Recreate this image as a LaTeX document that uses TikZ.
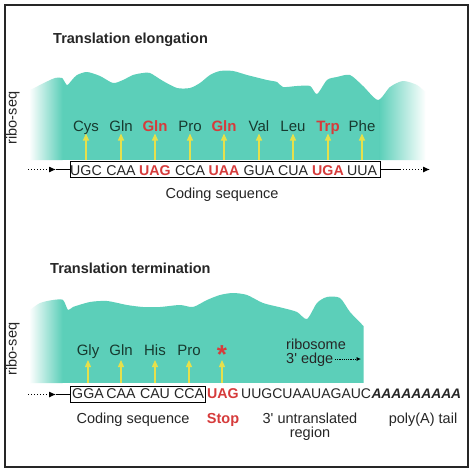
\documentclass[tikz,border=0pt]{standalone}
\usepackage{fontspec}
\setmainfont{Liberation Sans}
\usetikzlibrary{arrows.meta}
\definecolor{ribo}{HTML}{5CCFB9}
\definecolor{stopred}{HTML}{D63B3B}
\definecolor{arrowyel}{HTML}{E6E04A}
\definecolor{aadark}{HTML}{173A2F}
\definecolor{txt}{HTML}{262626}
\begin{document}
\begin{tikzpicture}[x=1pt,y=-1pt,
  title/.style={font=\fontsize{14.5}{16}\selectfont\bfseries, text=txt, anchor=base west, inner sep=0},
  aa/.style={font=\fontsize{15}{16}\selectfont, text=aadark, anchor=base, inner sep=0},
  aared/.style={font=\fontsize{15}{16}\selectfont\bfseries, text=stopred, anchor=base, inner sep=0},
  codon/.style={font=\fontsize{14.2}{16}\selectfont, text=txt, anchor=base, inner sep=0},
  codonred/.style={font=\fontsize{14.2}{16}\selectfont\bfseries, text=stopred, anchor=base, inner sep=0},
  lbl/.style={font=\fontsize{14.5}{16}\selectfont, text=txt, anchor=base, inner sep=0},
  ylabel/.style={font=\fontsize{14.5}{16}\selectfont, text=txt, rotate=90, inner sep=0},
  yarrow/.style={draw=arrowyel, line width=1.2pt, -{Triangle[width=6pt,length=7pt,fill=arrowyel]}},
  dotline/.style={line width=1pt, dash pattern=on 1pt off 2pt},
  tip/.style={-{Latex[length=7pt,width=6pt]}},
  seqbox/.style={draw, line width=1pt, inner sep=0},
]
\useasboundingbox (0,0) rectangle (474,471);
\fill[white] (0,0) rectangle (474,471);

% ---------- top panel ----------
\node[title] (t1) at (53,43.5) {Translation elongation};

\begin{scope}
\clip plot[smooth, tension=0.45] coordinates {(30,90) (38,86) (48,81) (55,78) (62,78) (67,85) (72,80) (77,75) (87,72) (100,76) (113,83) (123,80) (133,75) (143,73) (150,73) (163,81) (177,88) (190,88) (200,83) (210,75) (220,71) (233,71) (247,75) (267,80) (277,82) (283,87) (297,86) (310,86) (317,94) (327,80) (337,77) (350,75) (363,86) (378,100) (390,87) (403,81) (417,85) (425,92)} -- (425,160) -- (30,160) -- cycle;
\fill[ribo] (62,60) rectangle (380,160);
\shade[left color=white, right color=ribo] (29,60) rectangle (62.5,160);
\shade[left color=ribo, right color=white] (379.5,60) rectangle (426,160);
\end{scope}

\node[ylabel] (rs1) at (13,118) {ribo-seq};

\node[seqbox, minimum width=310pt, minimum height=16pt] (box1) at (225,169.5) {};

\foreach \x/\a/\as/\c/\cs [count=\i] in {86/Cys/aa/UGC/codon, 121/Gln/aa/CAA/codon, 155/Gln/aared/UAG/codonred, 190/Pro/aa/CCA/codon, 224/Gln/aared/UAA/codonred, 259/Val/aa/GUA/codon, 293/Leu/aa/CUA/codon, 328/Trp/aared/UGA/codonred, 362/Phe/aa/UUA/codon}{
  \node[\as] (aa\i) at (\x,131) {\a};
  \node[\cs] (cd\i) at (\x,175) {\c};
  \coordinate (ab\i) at (\x,160);
  \coordinate (at\i) at (\x,133.5);
  \draw[yarrow] (ab\i) -- (at\i);
}

\coordinate (l1s) at (28,169.5);
\coordinate (l1m) at (56,169.5);
\draw[dotline, tip] (l1s) -- (l1m);
\draw[line width=1pt] (l1m) -- (box1.west);
\coordinate (r1m) at (400,169.5);
\coordinate (r1e) at (430,169.5);
\draw[line width=1pt] (box1.east) -- (r1m);
\draw[dotline, tip] (r1m) -- (r1e);

\node[lbl] (cs1) at (222,198) {Coding sequence};

% ---------- bottom panel ----------
\node[title] (t2) at (50,273) {Translation termination};

\begin{scope}
\clip plot[smooth, tension=0.45] coordinates {(30,310) (40,303) (53,300) (63,300) (68,310) (73,307) (90,302) (107,301) (127,305) (143,307) (160,307) (180,305) (193,307) (207,300) (220,295) (233,293) (247,295) (263,303) (283,308) (297,312) (307,319) (317,303) (327,297) (340,298) (350,312) (363.5,326)} -- (363.5,383) -- (30,383) -- cycle;
\fill[ribo] (62,280) rectangle (364,383);
\shade[left color=white, right color=ribo] (29,280) rectangle (62.5,383);
\end{scope}

\node[ylabel] (rs2) at (13,349) {ribo-seq};

\node[seqbox, minimum width=135pt, minimum height=16pt] (box2) at (137.5,394.5) {};

\foreach \x/\a/\c [count=\i] in {88/Gly/GGA, 121/Gln/CAA, 155/His/CAU, 189/Pro/CCA}{
  \node[aa] (ba\i) at (\x,355) {\a};
  \node[codon] (bc\i) at (\x,398) {\c};
  \coordinate (bb\i) at (\x,383);
  \coordinate (bt\i) at (\x,360);
  \draw[yarrow] (bb\i) -- (bt\i);
}
\node[font=\fontsize{26}{26}\selectfont\bfseries, text=stopred, inner sep=0, anchor=base] (star) at (222,363) {*};
\coordinate (bb5) at (222,383);
\coordinate (bt5) at (222,360);
\draw[yarrow] (bb5) -- (bt5);

\node[codonred] (stopc) at (223,398) {UAG};
\node[codon, anchor=base west, font=\fontsize{14}{16}\selectfont] (utr) at (241,398) {UUGCUAAUAGAUC};
\node[codon, anchor=base west, font=\fontsize{13.8}{16}\selectfont\bfseries\itshape] (polya) at (utr.base east) {AAAAAAAAA};

\coordinate (l2s) at (28,394.5);
\coordinate (l2m) at (56,394.5);
\draw[dotline, tip] (l2s) -- (l2m);
\draw[line width=1pt] (l2m) -- (box2.west);

\node[lbl, anchor=base west] (ribo) at (286,349) {ribosome};
\node[lbl, anchor=base west] (edge) at (286,363) {3\textquotesingle\ edge};
\coordinate (es) at (335,359);
\coordinate (ea) at (361,359);
\draw[line width=0.7pt, dash pattern=on 1.2pt off 1pt, -{Latex[length=4.5pt,width=4pt]}] (es) -- (ea);

\node[lbl] (cs2) at (133,423) {Coding sequence};
\node[lbl, font=\fontsize{14.5}{16}\selectfont\bfseries, text=stopred] (stop) at (223,423) {Stop};
\node[lbl] (utrl) at (310,423) {3\textquotesingle\ untranslated};
\node[lbl] (reg) at (310,437) {region};
\node[lbl] (pal) at (423,423) {poly(A) tail};

% frame
\draw[line width=1.6pt, color=black!85] (5,5) rectangle (468,467);
\end{tikzpicture}
\end{document}
